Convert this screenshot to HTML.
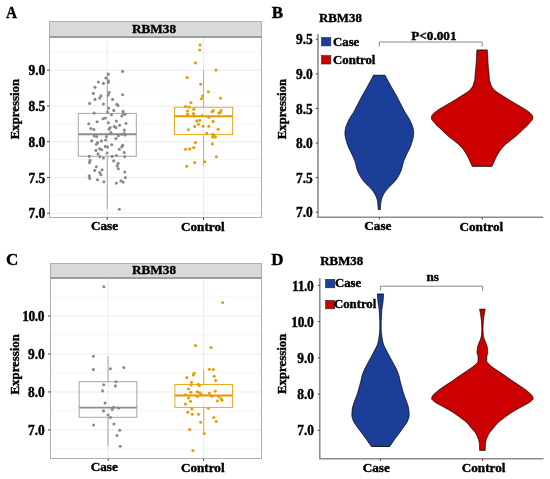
<!DOCTYPE html>
<html><head><meta charset="utf-8"><style>
html,body{margin:0;padding:0;background:#fff;}
svg{display:block;filter:blur(0.35px);}
</style></head><body>
<svg width="550" height="479" viewBox="0 0 550 479">
<rect width="550" height="479" fill="#fff"/>
<g style="font-family:'Liberation Serif',serif;font-weight:bold;stroke:#000;stroke-width:0.4px;" fill="#000">
<text font-size="17" transform="translate(6.1,18.0) scale(0.9,1.04)">A</text>
<text font-size="17" transform="translate(271.75,17.9) scale(1.0,1.03)">B</text>
<text font-size="17" transform="translate(6.05,264.7) scale(1.0,1.03)">C</text>
<text font-size="17" transform="translate(271.35,264.8) scale(1.0,1.03)">D</text>
</g>
<line x1="49.5" x2="261.5" y1="195.325" y2="195.325" stroke="#f3f3f3" stroke-width="0.8"/>
<line x1="49.5" x2="261.5" y1="159.575" y2="159.575" stroke="#f3f3f3" stroke-width="0.8"/>
<line x1="49.5" x2="261.5" y1="123.82499999999999" y2="123.82499999999999" stroke="#f3f3f3" stroke-width="0.8"/>
<line x1="49.5" x2="261.5" y1="88.07499999999999" y2="88.07499999999999" stroke="#f3f3f3" stroke-width="0.8"/>
<line x1="49.5" x2="261.5" y1="52.32499999999999" y2="52.32499999999999" stroke="#f3f3f3" stroke-width="0.8"/>
<line x1="49.5" x2="261.5" y1="213.2" y2="213.2" stroke="#ebebeb" stroke-width="1.0"/>
<line x1="49.5" x2="261.5" y1="177.45" y2="177.45" stroke="#ebebeb" stroke-width="1.0"/>
<line x1="49.5" x2="261.5" y1="141.7" y2="141.7" stroke="#ebebeb" stroke-width="1.0"/>
<line x1="49.5" x2="261.5" y1="105.94999999999999" y2="105.94999999999999" stroke="#ebebeb" stroke-width="1.0"/>
<line x1="49.5" x2="261.5" y1="70.19999999999999" y2="70.19999999999999" stroke="#ebebeb" stroke-width="1.0"/>
<line x1="107.2" x2="107.2" y1="37.0" y2="217.5" stroke="#ebebeb" stroke-width="1.0"/>
<line x1="203.6" x2="203.6" y1="37.0" y2="217.5" stroke="#ebebeb" stroke-width="1.0"/>
<line x1="107.30000000000001" x2="107.30000000000001" y1="72.2" y2="113.4" stroke="#a6a6a6" stroke-width="1.0"/>
<line x1="107.30000000000001" x2="107.30000000000001" y1="156.2" y2="209.3" stroke="#a6a6a6" stroke-width="1.0"/>
<rect x="78.3" y="113.4" width="58.000000000000014" height="42.79999999999998" fill="none" stroke="#a6a6a6" stroke-width="1.0"/>
<line x1="78.3" x2="136.3" y1="134.2" y2="134.2" stroke="#8c8c8c" stroke-width="1.9"/>
<line x1="203.55" x2="203.55" y1="70.1" y2="107.3" stroke="#e8aa22" stroke-width="1.0"/>
<line x1="203.55" x2="203.55" y1="134.6" y2="166" stroke="#e8aa22" stroke-width="1.0"/>
<rect x="174.5" y="107.3" width="58.099999999999994" height="27.299999999999997" fill="none" stroke="#e8aa22" stroke-width="1.0"/>
<line x1="174.5" x2="232.6" y1="116.3" y2="116.3" stroke="#e09a00" stroke-width="1.9"/>
<g fill="#8a8a8a"><circle cx="122.6" cy="71.4" r="1.55"/><circle cx="108.4" cy="74.2" r="1.55"/><circle cx="105.9" cy="78.0" r="1.55"/><circle cx="108.4" cy="80.9" r="1.55"/><circle cx="108.4" cy="82.5" r="1.55"/><circle cx="98.4" cy="82.0" r="1.55"/><circle cx="103.4" cy="83.4" r="1.55"/><circle cx="95.0" cy="87.2" r="1.55"/><circle cx="93.4" cy="93.4" r="1.55"/><circle cx="109.2" cy="92.6" r="1.55"/><circle cx="108.1" cy="95.1" r="1.55"/><circle cx="122.6" cy="94.7" r="1.55"/><circle cx="100.9" cy="95.9" r="1.55"/><circle cx="99.7" cy="98.1" r="1.55"/><circle cx="95.0" cy="99.4" r="1.55"/><circle cx="112.6" cy="99.4" r="1.55"/><circle cx="89.7" cy="103.4" r="1.55"/><circle cx="103.4" cy="104.1" r="1.55"/><circle cx="116.8" cy="104.3" r="1.55"/><circle cx="117.9" cy="105.4" r="1.55"/><circle cx="108.7" cy="108.1" r="1.55"/><circle cx="113.8" cy="110.4" r="1.55"/><circle cx="123.1" cy="111.4" r="1.55"/><circle cx="94.2" cy="113.1" r="1.55"/><circle cx="107.6" cy="112.1" r="1.55"/><circle cx="111.4" cy="114.8" r="1.55"/><circle cx="123.4" cy="113.8" r="1.55"/><circle cx="121.8" cy="116.0" r="1.55"/><circle cx="125.1" cy="114.3" r="1.55"/><circle cx="105.4" cy="118.0" r="1.55"/><circle cx="103.1" cy="118.8" r="1.55"/><circle cx="97.1" cy="121.8" r="1.55"/><circle cx="88.7" cy="123.8" r="1.55"/><circle cx="108.4" cy="122.8" r="1.55"/><circle cx="116.3" cy="121.1" r="1.55"/><circle cx="125.9" cy="123.5" r="1.55"/><circle cx="119.6" cy="125.3" r="1.55"/><circle cx="114.3" cy="126.5" r="1.55"/><circle cx="115.9" cy="127.6" r="1.55"/><circle cx="110.1" cy="127.6" r="1.55"/><circle cx="109.2" cy="129.3" r="1.55"/><circle cx="90.9" cy="128.5" r="1.55"/><circle cx="93.9" cy="129.5" r="1.55"/><circle cx="124.3" cy="130.1" r="1.55"/><circle cx="110.9" cy="132.6" r="1.55"/><circle cx="124.3" cy="133.5" r="1.55"/><circle cx="121.8" cy="134.3" r="1.55"/><circle cx="94.2" cy="136.0" r="1.55"/><circle cx="96.7" cy="136.5" r="1.55"/><circle cx="106.4" cy="136.5" r="1.55"/><circle cx="115.9" cy="138.5" r="1.55"/><circle cx="118.4" cy="135.8" r="1.55"/><circle cx="125.1" cy="135.0" r="1.55"/><circle cx="91.7" cy="140.9" r="1.55"/><circle cx="97.5" cy="142.5" r="1.55"/><circle cx="96.4" cy="144.2" r="1.55"/><circle cx="101.4" cy="140.9" r="1.55"/><circle cx="105.6" cy="140.0" r="1.55"/><circle cx="111.7" cy="144.7" r="1.55"/><circle cx="105.4" cy="146.4" r="1.55"/><circle cx="107.6" cy="147.0" r="1.55"/><circle cx="99.7" cy="148.7" r="1.55"/><circle cx="101.7" cy="149.7" r="1.55"/><circle cx="95.9" cy="150.4" r="1.55"/><circle cx="119.3" cy="149.2" r="1.55"/><circle cx="121.8" cy="146.7" r="1.55"/><circle cx="122.6" cy="145.4" r="1.55"/><circle cx="107.1" cy="153.0" r="1.55"/><circle cx="98.0" cy="153.9" r="1.55"/><circle cx="124.3" cy="152.5" r="1.55"/><circle cx="99.7" cy="156.7" r="1.55"/><circle cx="89.2" cy="156.4" r="1.55"/><circle cx="103.4" cy="158.0" r="1.55"/><circle cx="112.1" cy="156.4" r="1.55"/><circle cx="116.4" cy="155.5" r="1.55"/><circle cx="124.8" cy="156.7" r="1.55"/><circle cx="90.0" cy="160.4" r="1.55"/><circle cx="89.5" cy="162.6" r="1.55"/><circle cx="113.7" cy="160.9" r="1.55"/><circle cx="118.1" cy="163.4" r="1.55"/><circle cx="117.2" cy="165.9" r="1.55"/><circle cx="118.4" cy="168.7" r="1.55"/><circle cx="96.4" cy="166.7" r="1.55"/><circle cx="94.7" cy="170.4" r="1.55"/><circle cx="102.1" cy="169.7" r="1.55"/><circle cx="99.7" cy="172.6" r="1.55"/><circle cx="100.9" cy="174.7" r="1.55"/><circle cx="124.8" cy="172.1" r="1.55"/><circle cx="89.2" cy="175.9" r="1.55"/><circle cx="89.7" cy="178.4" r="1.55"/><circle cx="97.5" cy="179.8" r="1.55"/><circle cx="103.9" cy="181.8" r="1.55"/><circle cx="125.4" cy="177.6" r="1.55"/><circle cx="116.4" cy="183.1" r="1.55"/><circle cx="120.9" cy="180.9" r="1.55"/><circle cx="123.1" cy="182.1" r="1.55"/><circle cx="119.3" cy="209.3" r="1.55"/></g>
<g fill="#E69F00"><circle cx="200.1" cy="45.0" r="1.55"/><circle cx="199.7" cy="50.0" r="1.55"/><circle cx="195.4" cy="62.9" r="1.55"/><circle cx="215.9" cy="70.1" r="1.55"/><circle cx="187.2" cy="77.6" r="1.55"/><circle cx="200.6" cy="84.3" r="1.55"/><circle cx="208.4" cy="91.8" r="1.55"/><circle cx="202.6" cy="96.0" r="1.55"/><circle cx="201.4" cy="98.8" r="1.55"/><circle cx="220.4" cy="98.1" r="1.55"/><circle cx="190.9" cy="102.6" r="1.55"/><circle cx="185.4" cy="106.5" r="1.55"/><circle cx="189.2" cy="107.1" r="1.55"/><circle cx="193.7" cy="109.3" r="1.55"/><circle cx="187.5" cy="111.0" r="1.55"/><circle cx="213.4" cy="110.5" r="1.55"/><circle cx="212.1" cy="111.8" r="1.55"/><circle cx="220.9" cy="110.5" r="1.55"/><circle cx="220.1" cy="112.7" r="1.55"/><circle cx="193.4" cy="113.5" r="1.55"/><circle cx="187.5" cy="114.3" r="1.55"/><circle cx="202.1" cy="115.5" r="1.55"/><circle cx="208.8" cy="117.2" r="1.55"/><circle cx="218.8" cy="113.0" r="1.55"/><circle cx="194.2" cy="115.9" r="1.55"/><circle cx="196.7" cy="120.9" r="1.55"/><circle cx="199.7" cy="120.4" r="1.55"/><circle cx="213.1" cy="121.4" r="1.55"/><circle cx="198.4" cy="124.2" r="1.55"/><circle cx="194.7" cy="126.4" r="1.55"/><circle cx="203.1" cy="126.2" r="1.55"/><circle cx="208.8" cy="126.2" r="1.55"/><circle cx="188.4" cy="129.7" r="1.55"/><circle cx="218.1" cy="129.2" r="1.55"/><circle cx="206.8" cy="133.4" r="1.55"/><circle cx="212.6" cy="134.2" r="1.55"/><circle cx="213.8" cy="135.1" r="1.55"/><circle cx="212.6" cy="137.1" r="1.55"/><circle cx="215.4" cy="137.1" r="1.55"/><circle cx="195.4" cy="142.6" r="1.55"/><circle cx="212.3" cy="143.9" r="1.55"/><circle cx="185.5" cy="149.3" r="1.55"/><circle cx="189.7" cy="148.9" r="1.55"/><circle cx="193.7" cy="147.6" r="1.55"/><circle cx="216.4" cy="156.8" r="1.55"/><circle cx="194.7" cy="162.6" r="1.55"/><circle cx="204.7" cy="161.8" r="1.55"/><circle cx="186.7" cy="166.3" r="1.55"/></g>
<rect x="49.5" y="37.0" width="212.0" height="180.5" fill="none" stroke="#b0b0b0" stroke-width="1.0"/>
<rect x="49.5" y="21.5" width="212.0" height="15.5" fill="#d9d9d9" stroke="#b0b0b0" stroke-width="1.0"/>
<line x1="49.5" x2="261.5" y1="37.0" y2="37.0" stroke="#9c9c9c" stroke-width="1.8"/>
<g style="font-family:'Liberation Serif',serif;font-weight:bold;stroke:#000;stroke-width:0.4px;" fill="#000">
<text x="132.05" y="33.0" font-size="13.2">RBM38</text>
<line x1="47.0" x2="49.5" y1="213.2" y2="213.2" stroke="#444" stroke-width="1"/>
<text font-size="13.4" text-anchor="end" transform="translate(45.30,218.30) scale(1,1.08)">7.0</text>
<line x1="47.0" x2="49.5" y1="177.45" y2="177.45" stroke="#444" stroke-width="1"/>
<text font-size="13.4" text-anchor="end" transform="translate(45.30,182.55) scale(1,1.08)">7.5</text>
<line x1="47.0" x2="49.5" y1="141.7" y2="141.7" stroke="#444" stroke-width="1"/>
<text font-size="13.4" text-anchor="end" transform="translate(45.30,146.80) scale(1,1.08)">8.0</text>
<line x1="47.0" x2="49.5" y1="105.94999999999999" y2="105.94999999999999" stroke="#444" stroke-width="1"/>
<text font-size="13.4" text-anchor="end" transform="translate(45.30,111.05) scale(1,1.08)">8.5</text>
<line x1="47.0" x2="49.5" y1="70.19999999999999" y2="70.19999999999999" stroke="#444" stroke-width="1"/>
<text font-size="13.4" text-anchor="end" transform="translate(45.30,75.30) scale(1,1.08)">9.0</text>
<line x1="107.2" x2="107.2" y1="217.5" y2="220.0" stroke="#444" stroke-width="1"/>
<line x1="203.6" x2="203.6" y1="217.5" y2="220.0" stroke="#444" stroke-width="1"/>
<text x="90.95" y="230.15" font-size="13.2">Case</text>
<text x="180.95" y="230.65" font-size="13.2">Control</text>
<text x="0" y="0" font-size="12.85" transform="translate(18.65,139.35) rotate(-90)">Expression</text>
</g>
<line x1="50.5" x2="261.5" y1="448.895" y2="448.895" stroke="#f3f3f3" stroke-width="0.8"/>
<line x1="50.5" x2="261.5" y1="410.925" y2="410.925" stroke="#f3f3f3" stroke-width="0.8"/>
<line x1="50.5" x2="261.5" y1="372.955" y2="372.955" stroke="#f3f3f3" stroke-width="0.8"/>
<line x1="50.5" x2="261.5" y1="334.985" y2="334.985" stroke="#f3f3f3" stroke-width="0.8"/>
<line x1="50.5" x2="261.5" y1="297.015" y2="297.015" stroke="#f3f3f3" stroke-width="0.8"/>
<line x1="50.5" x2="261.5" y1="429.90999999999997" y2="429.90999999999997" stroke="#ebebeb" stroke-width="1.0"/>
<line x1="50.5" x2="261.5" y1="391.94" y2="391.94" stroke="#ebebeb" stroke-width="1.0"/>
<line x1="50.5" x2="261.5" y1="353.97" y2="353.97" stroke="#ebebeb" stroke-width="1.0"/>
<line x1="50.5" x2="261.5" y1="316.0" y2="316.0" stroke="#ebebeb" stroke-width="1.0"/>
<line x1="108.2" x2="108.2" y1="278.0" y2="458.5" stroke="#ebebeb" stroke-width="1.0"/>
<line x1="203.6" x2="203.6" y1="278.0" y2="458.5" stroke="#ebebeb" stroke-width="1.0"/>
<line x1="108.0" x2="108.0" y1="356.3" y2="381.7" stroke="#a6a6a6" stroke-width="1.0"/>
<line x1="108.0" x2="108.0" y1="417.3" y2="446.3" stroke="#a6a6a6" stroke-width="1.0"/>
<rect x="79.2" y="381.7" width="57.60000000000001" height="35.60000000000002" fill="none" stroke="#a6a6a6" stroke-width="1.0"/>
<line x1="79.2" x2="136.8" y1="407.6" y2="407.6" stroke="#8c8c8c" stroke-width="1.9"/>
<line x1="203.75" x2="203.75" y1="369.6" y2="384.5" stroke="#e8aa22" stroke-width="1.0"/>
<line x1="203.75" x2="203.75" y1="407.4" y2="433.5" stroke="#e8aa22" stroke-width="1.0"/>
<rect x="174.9" y="384.5" width="57.69999999999999" height="22.899999999999977" fill="none" stroke="#e8aa22" stroke-width="1.0"/>
<line x1="174.9" x2="232.6" y1="395.5" y2="395.5" stroke="#e09a00" stroke-width="1.9"/>
<g fill="#8a8a8a"><circle cx="103.9" cy="286.7" r="1.55"/><circle cx="93.4" cy="356.3" r="1.55"/><circle cx="93.4" cy="369.5" r="1.55"/><circle cx="110.4" cy="368.7" r="1.55"/><circle cx="123.8" cy="367.5" r="1.55"/><circle cx="115.9" cy="381.7" r="1.55"/><circle cx="103.7" cy="384.7" r="1.55"/><circle cx="115.4" cy="385.9" r="1.55"/><circle cx="102.6" cy="390.9" r="1.55"/><circle cx="105.1" cy="403.1" r="1.55"/><circle cx="113.6" cy="407.3" r="1.55"/><circle cx="112.2" cy="409.5" r="1.55"/><circle cx="118.7" cy="408.0" r="1.55"/><circle cx="103.5" cy="410.9" r="1.55"/><circle cx="108.1" cy="415.0" r="1.55"/><circle cx="110.4" cy="417.5" r="1.55"/><circle cx="93.6" cy="425.0" r="1.55"/><circle cx="113.9" cy="424.0" r="1.55"/><circle cx="119.7" cy="430.3" r="1.55"/><circle cx="117.0" cy="435.6" r="1.55"/><circle cx="120.2" cy="446.3" r="1.55"/></g>
<g fill="#E69F00"><circle cx="222.6" cy="302.5" r="1.55"/><circle cx="195.4" cy="345.6" r="1.55"/><circle cx="210.9" cy="347.6" r="1.55"/><circle cx="209.4" cy="369.2" r="1.55"/><circle cx="213.3" cy="369.6" r="1.55"/><circle cx="194.1" cy="373.3" r="1.55"/><circle cx="193.4" cy="375.0" r="1.55"/><circle cx="186.8" cy="377.6" r="1.55"/><circle cx="214.2" cy="376.2" r="1.55"/><circle cx="215.6" cy="380.5" r="1.55"/><circle cx="191.5" cy="382.3" r="1.55"/><circle cx="191.2" cy="384.9" r="1.55"/><circle cx="198.2" cy="384.2" r="1.55"/><circle cx="199.2" cy="385.6" r="1.55"/><circle cx="188.6" cy="389.0" r="1.55"/><circle cx="190.9" cy="392.2" r="1.55"/><circle cx="197.3" cy="391.9" r="1.55"/><circle cx="199.9" cy="392.9" r="1.55"/><circle cx="215.2" cy="391.2" r="1.55"/><circle cx="209.4" cy="393.3" r="1.55"/><circle cx="185.4" cy="394.7" r="1.55"/><circle cx="201.4" cy="394.4" r="1.55"/><circle cx="197.3" cy="396.5" r="1.55"/><circle cx="211.8" cy="396.3" r="1.55"/><circle cx="218.8" cy="396.5" r="1.55"/><circle cx="188.6" cy="398.0" r="1.55"/><circle cx="190.5" cy="401.2" r="1.55"/><circle cx="217.4" cy="400.9" r="1.55"/><circle cx="222.0" cy="400.2" r="1.55"/><circle cx="221.0" cy="398.7" r="1.55"/><circle cx="185.4" cy="404.1" r="1.55"/><circle cx="191.9" cy="408.9" r="1.55"/><circle cx="208.3" cy="408.2" r="1.55"/><circle cx="187.8" cy="412.2" r="1.55"/><circle cx="192.3" cy="414.2" r="1.55"/><circle cx="198.5" cy="414.3" r="1.55"/><circle cx="213.7" cy="417.5" r="1.55"/><circle cx="216.2" cy="421.5" r="1.55"/><circle cx="200.6" cy="422.2" r="1.55"/><circle cx="189.7" cy="429.6" r="1.55"/><circle cx="204.3" cy="433.5" r="1.55"/><circle cx="192.9" cy="450.6" r="1.55"/></g>
<rect x="50.5" y="278.0" width="211.0" height="180.5" fill="none" stroke="#b0b0b0" stroke-width="1.0"/>
<rect x="50.5" y="263.5" width="211.0" height="14.5" fill="#d9d9d9" stroke="#b0b0b0" stroke-width="1.0"/>
<line x1="50.5" x2="261.5" y1="278.0" y2="278.0" stroke="#9c9c9c" stroke-width="1.8"/>
<g style="font-family:'Liberation Serif',serif;font-weight:bold;stroke:#000;stroke-width:0.4px;" fill="#000">
<text x="132.05" y="273.75" font-size="13.2">RBM38</text>
<line x1="48.0" x2="50.5" y1="429.90999999999997" y2="429.90999999999997" stroke="#444" stroke-width="1"/>
<text font-size="13.4" text-anchor="end" transform="translate(44.80,435.01) scale(1,1.08)">7.0</text>
<line x1="48.0" x2="50.5" y1="391.94" y2="391.94" stroke="#444" stroke-width="1"/>
<text font-size="13.4" text-anchor="end" transform="translate(44.80,397.04) scale(1,1.08)">8.0</text>
<line x1="48.0" x2="50.5" y1="353.97" y2="353.97" stroke="#444" stroke-width="1"/>
<text font-size="13.4" text-anchor="end" transform="translate(44.80,359.07) scale(1,1.08)">9.0</text>
<line x1="48.0" x2="50.5" y1="316.0" y2="316.0" stroke="#444" stroke-width="1"/>
<text font-size="13.4" text-anchor="end" letter-spacing="-0.4" transform="translate(44.00,321.10) scale(1,1.08)">10.0</text>
<line x1="108.2" x2="108.2" y1="458.5" y2="461.0" stroke="#444" stroke-width="1"/>
<line x1="203.6" x2="203.6" y1="458.5" y2="461.0" stroke="#444" stroke-width="1"/>
<text x="90.7" y="471.35" font-size="13.2">Case</text>
<text x="180.9" y="471.85" font-size="13.2">Control</text>
<text x="0" y="0" font-size="12.85" transform="translate(18.55,394.5) rotate(-90)">Expression</text>
</g>
<path d="M385.10,75.30 L385.36,75.80 L385.62,76.30 L385.88,76.80 L386.14,77.30 L386.40,77.81 L386.66,78.31 L386.93,78.81 L387.19,79.31 L387.46,79.81 L387.73,80.31 L388.00,80.81 L388.27,81.31 L388.54,81.81 L388.81,82.32 L389.09,82.82 L389.36,83.32 L389.64,83.82 L389.91,84.32 L390.19,84.82 L390.47,85.32 L390.75,85.82 L391.02,86.32 L391.30,86.83 L391.58,87.33 L391.86,87.83 L392.14,88.33 L392.42,88.83 L392.71,89.33 L392.99,89.83 L393.28,90.33 L393.57,90.83 L393.85,91.34 L394.14,91.84 L394.43,92.34 L394.72,92.84 L395.01,93.34 L395.30,93.84 L395.59,94.34 L395.87,94.84 L396.16,95.34 L396.44,95.85 L396.72,96.35 L396.99,96.85 L397.26,97.35 L397.53,97.85 L397.79,98.35 L398.05,98.85 L398.31,99.35 L398.57,99.85 L398.82,100.36 L399.08,100.86 L399.33,101.36 L399.58,101.86 L399.84,102.36 L400.09,102.86 L400.34,103.36 L400.60,103.86 L400.86,104.36 L401.12,104.87 L401.38,105.37 L401.65,105.87 L401.92,106.37 L402.19,106.87 L402.46,107.37 L402.73,107.87 L403.00,108.37 L403.25,108.88 L403.51,109.38 L403.76,109.88 L404.02,110.38 L404.28,110.88 L404.54,111.38 L404.82,111.88 L405.11,112.38 L405.42,112.88 L405.74,113.39 L406.07,113.89 L406.41,114.39 L406.75,114.89 L407.09,115.39 L407.41,115.89 L407.73,116.39 L408.03,116.89 L408.33,117.39 L408.62,117.90 L408.92,118.40 L409.20,118.90 L409.48,119.40 L409.74,119.90 L410.00,120.40 L410.25,120.90 L410.49,121.40 L410.73,121.90 L410.96,122.41 L411.18,122.91 L411.39,123.41 L411.60,123.91 L411.79,124.41 L411.98,124.91 L412.16,125.41 L412.35,125.91 L412.53,126.41 L412.70,126.92 L412.86,127.42 L413.00,127.92 L413.11,128.42 L413.20,128.92 L413.28,129.42 L413.35,129.92 L413.41,130.42 L413.47,130.92 L413.52,131.43 L413.56,131.93 L413.59,132.43 L413.60,132.93 L413.59,133.43 L413.57,133.93 L413.54,134.43 L413.49,134.93 L413.44,135.43 L413.37,135.94 L413.31,136.44 L413.24,136.94 L413.16,137.44 L413.07,137.94 L412.96,138.44 L412.83,138.94 L412.68,139.44 L412.53,139.94 L412.38,140.45 L412.23,140.95 L412.09,141.45 L411.94,141.95 L411.80,142.45 L411.66,142.95 L411.51,143.45 L411.35,143.95 L411.19,144.45 L411.02,144.96 L410.84,145.46 L410.65,145.96 L410.45,146.46 L410.23,146.96 L410.01,147.46 L409.78,147.96 L409.55,148.46 L409.31,148.96 L409.07,149.47 L408.83,149.97 L408.57,150.47 L408.32,150.97 L408.05,151.47 L407.79,151.97 L407.54,152.47 L407.28,152.97 L407.04,153.47 L406.80,153.98 L406.56,154.48 L406.33,154.98 L406.10,155.48 L405.87,155.98 L405.65,156.48 L405.42,156.98 L405.21,157.48 L404.99,157.98 L404.77,158.49 L404.55,158.99 L404.34,159.49 L404.13,159.99 L403.93,160.49 L403.74,160.99 L403.57,161.49 L403.41,161.99 L403.26,162.49 L403.13,163.00 L403.00,163.50 L402.87,164.00 L402.75,164.50 L402.63,165.00 L402.50,165.50 L402.37,166.00 L402.24,166.50 L402.12,167.00 L402.00,167.51 L401.87,168.01 L401.74,168.51 L401.61,169.01 L401.46,169.51 L401.30,170.01 L401.12,170.51 L400.92,171.01 L400.71,171.51 L400.48,172.02 L400.24,172.52 L400.00,173.02 L399.74,173.52 L399.49,174.02 L399.24,174.52 L398.97,175.02 L398.70,175.52 L398.42,176.02 L398.14,176.53 L397.84,177.03 L397.53,177.53 L397.21,178.03 L396.88,178.53 L396.54,179.03 L396.18,179.53 L395.82,180.03 L395.44,180.54 L395.04,181.04 L394.63,181.54 L394.21,182.04 L393.78,182.54 L393.30,183.04 L392.80,183.54 L392.27,184.04 L391.73,184.54 L391.19,185.05 L390.66,185.55 L390.15,186.05 L389.66,186.55 L389.18,187.05 L388.69,187.55 L388.22,188.05 L387.75,188.55 L387.29,189.05 L386.86,189.56 L386.44,190.06 L386.06,190.56 L385.69,191.06 L385.33,191.56 L384.98,192.06 L384.65,192.56 L384.33,193.06 L384.03,193.56 L383.74,194.07 L383.47,194.57 L383.21,195.07 L382.96,195.57 L382.71,196.07 L382.47,196.57 L382.25,197.07 L382.04,197.57 L381.86,198.07 L381.69,198.58 L381.55,199.08 L381.43,199.58 L381.31,200.08 L381.20,200.58 L381.10,201.08 L381.01,201.58 L380.92,202.08 L380.85,202.58 L380.79,203.09 L380.74,203.59 L380.69,204.09 L380.64,204.59 L380.60,205.09 L380.56,205.59 L380.53,206.09 L380.49,206.59 L380.46,207.09 L380.42,207.60 L380.39,208.10 L380.36,208.60 L380.33,209.10 L380.30,209.60 L378.30,209.60 L378.27,209.10 L378.24,208.60 L378.21,208.10 L378.18,207.60 L378.14,207.09 L378.11,206.59 L378.07,206.09 L378.04,205.59 L378.00,205.09 L377.96,204.59 L377.91,204.09 L377.86,203.59 L377.81,203.09 L377.75,202.58 L377.68,202.08 L377.59,201.58 L377.50,201.08 L377.40,200.58 L377.29,200.08 L377.17,199.58 L377.05,199.08 L376.91,198.58 L376.74,198.07 L376.56,197.57 L376.35,197.07 L376.13,196.57 L375.89,196.07 L375.64,195.57 L375.39,195.07 L375.13,194.57 L374.86,194.07 L374.57,193.56 L374.27,193.06 L373.95,192.56 L373.62,192.06 L373.27,191.56 L372.91,191.06 L372.54,190.56 L372.16,190.06 L371.74,189.56 L371.31,189.05 L370.85,188.55 L370.38,188.05 L369.91,187.55 L369.42,187.05 L368.94,186.55 L368.45,186.05 L367.94,185.55 L367.41,185.05 L366.87,184.54 L366.33,184.04 L365.80,183.54 L365.30,183.04 L364.82,182.54 L364.39,182.04 L363.97,181.54 L363.56,181.04 L363.16,180.54 L362.78,180.03 L362.42,179.53 L362.06,179.03 L361.72,178.53 L361.39,178.03 L361.07,177.53 L360.76,177.03 L360.46,176.53 L360.18,176.02 L359.90,175.52 L359.63,175.02 L359.36,174.52 L359.11,174.02 L358.86,173.52 L358.60,173.02 L358.36,172.52 L358.12,172.02 L357.89,171.51 L357.68,171.01 L357.48,170.51 L357.30,170.01 L357.14,169.51 L356.99,169.01 L356.86,168.51 L356.73,168.01 L356.60,167.51 L356.48,167.00 L356.36,166.50 L356.23,166.00 L356.10,165.50 L355.97,165.00 L355.85,164.50 L355.73,164.00 L355.60,163.50 L355.47,163.00 L355.34,162.49 L355.19,161.99 L355.03,161.49 L354.86,160.99 L354.67,160.49 L354.47,159.99 L354.26,159.49 L354.05,158.99 L353.83,158.49 L353.61,157.98 L353.39,157.48 L353.18,156.98 L352.95,156.48 L352.73,155.98 L352.50,155.48 L352.27,154.98 L352.04,154.48 L351.80,153.98 L351.56,153.47 L351.32,152.97 L351.06,152.47 L350.81,151.97 L350.55,151.47 L350.28,150.97 L350.03,150.47 L349.77,149.97 L349.53,149.47 L349.29,148.96 L349.05,148.46 L348.82,147.96 L348.59,147.46 L348.37,146.96 L348.15,146.46 L347.95,145.96 L347.76,145.46 L347.58,144.96 L347.41,144.45 L347.25,143.95 L347.09,143.45 L346.94,142.95 L346.80,142.45 L346.66,141.95 L346.51,141.45 L346.37,140.95 L346.22,140.45 L346.07,139.94 L345.92,139.44 L345.77,138.94 L345.64,138.44 L345.53,137.94 L345.44,137.44 L345.36,136.94 L345.29,136.44 L345.23,135.94 L345.16,135.43 L345.11,134.93 L345.06,134.43 L345.03,133.93 L345.01,133.43 L345.00,132.93 L345.01,132.43 L345.04,131.93 L345.08,131.43 L345.13,130.92 L345.19,130.42 L345.25,129.92 L345.32,129.42 L345.40,128.92 L345.49,128.42 L345.60,127.92 L345.74,127.42 L345.90,126.92 L346.07,126.41 L346.25,125.91 L346.44,125.41 L346.62,124.91 L346.81,124.41 L347.00,123.91 L347.21,123.41 L347.42,122.91 L347.64,122.41 L347.87,121.90 L348.11,121.40 L348.35,120.90 L348.60,120.40 L348.86,119.90 L349.12,119.40 L349.40,118.90 L349.68,118.40 L349.98,117.90 L350.27,117.39 L350.57,116.89 L350.87,116.39 L351.19,115.89 L351.51,115.39 L351.85,114.89 L352.19,114.39 L352.53,113.89 L352.86,113.39 L353.18,112.88 L353.49,112.38 L353.78,111.88 L354.06,111.38 L354.32,110.88 L354.58,110.38 L354.84,109.88 L355.09,109.38 L355.35,108.88 L355.60,108.37 L355.87,107.87 L356.14,107.37 L356.41,106.87 L356.68,106.37 L356.95,105.87 L357.22,105.37 L357.48,104.87 L357.74,104.36 L358.00,103.86 L358.26,103.36 L358.51,102.86 L358.76,102.36 L359.02,101.86 L359.27,101.36 L359.52,100.86 L359.78,100.36 L360.03,99.85 L360.29,99.35 L360.55,98.85 L360.81,98.35 L361.07,97.85 L361.34,97.35 L361.61,96.85 L361.88,96.35 L362.16,95.85 L362.44,95.34 L362.73,94.84 L363.01,94.34 L363.30,93.84 L363.59,93.34 L363.88,92.84 L364.17,92.34 L364.46,91.84 L364.75,91.34 L365.03,90.83 L365.32,90.33 L365.61,89.83 L365.89,89.33 L366.18,88.83 L366.46,88.33 L366.74,87.83 L367.02,87.33 L367.30,86.83 L367.58,86.32 L367.85,85.82 L368.13,85.32 L368.41,84.82 L368.69,84.32 L368.96,83.82 L369.24,83.32 L369.51,82.82 L369.79,82.32 L370.06,81.81 L370.33,81.31 L370.60,80.81 L370.87,80.31 L371.14,79.81 L371.41,79.31 L371.67,78.81 L371.94,78.31 L372.20,77.81 L372.46,77.30 L372.72,76.80 L372.98,76.30 L373.24,75.80 L373.50,75.30 Z" fill="#1b3f98" stroke="#0a0a14" stroke-width="0.9"/>
<path d="M487.30,50.00 L487.32,50.50 L487.34,51.00 L487.36,51.50 L487.38,52.01 L487.40,52.51 L487.43,53.01 L487.45,53.51 L487.47,54.01 L487.50,54.51 L487.52,55.01 L487.55,55.51 L487.57,56.02 L487.60,56.52 L487.62,57.02 L487.65,57.52 L487.68,58.02 L487.71,58.52 L487.74,59.02 L487.76,59.52 L487.79,60.03 L487.83,60.53 L487.86,61.03 L487.89,61.53 L487.92,62.03 L487.96,62.53 L487.99,63.03 L488.02,63.53 L488.06,64.04 L488.10,64.54 L488.13,65.04 L488.17,65.54 L488.21,66.04 L488.25,66.54 L488.30,67.04 L488.34,67.55 L488.39,68.05 L488.44,68.55 L488.49,69.05 L488.55,69.55 L488.60,70.05 L488.65,70.55 L488.70,71.05 L488.76,71.56 L488.81,72.06 L488.85,72.56 L488.90,73.06 L488.95,73.56 L488.99,74.06 L489.03,74.56 L489.06,75.06 L489.09,75.57 L489.11,76.07 L489.14,76.57 L489.17,77.07 L489.19,77.57 L489.22,78.07 L489.26,78.57 L489.30,79.08 L489.35,79.58 L489.41,80.08 L489.53,80.58 L489.70,81.08 L489.91,81.58 L490.12,82.08 L490.30,82.58 L490.43,83.09 L490.55,83.59 L490.67,84.09 L490.80,84.59 L490.96,85.09 L491.16,85.59 L491.40,86.09 L491.67,86.59 L491.98,87.10 L492.32,87.60 L492.70,88.10 L493.09,88.60 L493.52,89.10 L493.96,89.60 L494.42,90.10 L494.90,90.60 L495.45,91.11 L496.08,91.61 L496.76,92.11 L497.49,92.61 L498.26,93.11 L499.06,93.61 L499.87,94.11 L500.68,94.62 L501.49,95.12 L502.27,95.62 L503.05,96.12 L503.83,96.62 L504.62,97.12 L505.42,97.62 L506.23,98.12 L507.04,98.63 L507.87,99.13 L508.69,99.63 L509.52,100.13 L510.35,100.63 L511.19,101.13 L512.03,101.63 L512.89,102.13 L513.76,102.64 L514.63,103.14 L515.50,103.64 L516.37,104.14 L517.23,104.64 L518.09,105.14 L518.94,105.64 L519.77,106.14 L520.61,106.65 L521.46,107.15 L522.32,107.65 L523.17,108.15 L524.01,108.65 L524.84,109.15 L525.64,109.65 L526.40,110.16 L527.13,110.66 L527.82,111.16 L528.46,111.66 L529.09,112.16 L529.70,112.66 L530.27,113.16 L530.78,113.66 L531.22,114.17 L531.59,114.67 L531.97,115.17 L532.31,115.67 L532.59,116.17 L532.76,116.67 L532.80,117.17 L532.76,117.67 L532.70,118.18 L532.60,118.68 L532.48,119.18 L532.34,119.68 L532.05,120.18 L531.64,120.68 L531.13,121.18 L530.60,121.68 L530.09,122.19 L529.64,122.69 L529.22,123.19 L528.81,123.69 L528.40,124.19 L527.98,124.69 L527.55,125.19 L527.09,125.70 L526.60,126.20 L526.05,126.70 L525.47,127.20 L524.86,127.70 L524.27,128.20 L523.70,128.70 L523.18,129.20 L522.69,129.71 L522.19,130.21 L521.69,130.71 L521.18,131.21 L520.68,131.71 L520.17,132.21 L519.67,132.71 L519.15,133.21 L518.63,133.72 L518.10,134.22 L517.56,134.72 L517.00,135.22 L516.43,135.72 L515.83,136.22 L515.21,136.72 L514.58,137.23 L513.93,137.73 L513.28,138.23 L512.62,138.73 L511.97,139.23 L511.32,139.73 L510.68,140.23 L510.05,140.73 L509.44,141.24 L508.82,141.74 L508.21,142.24 L507.59,142.74 L506.97,143.24 L506.37,143.74 L505.78,144.24 L505.21,144.74 L504.66,145.25 L504.15,145.75 L503.66,146.25 L503.19,146.75 L502.74,147.25 L502.31,147.75 L501.89,148.25 L501.48,148.75 L501.09,149.26 L500.71,149.76 L500.34,150.26 L499.98,150.76 L499.63,151.26 L499.29,151.76 L498.96,152.26 L498.64,152.77 L498.33,153.27 L498.02,153.77 L497.73,154.27 L497.44,154.77 L497.16,155.27 L496.89,155.77 L496.62,156.27 L496.36,156.78 L496.11,157.28 L495.87,157.78 L495.63,158.28 L495.40,158.78 L495.17,159.28 L494.95,159.78 L494.73,160.28 L494.50,160.79 L494.27,161.29 L494.04,161.79 L493.81,162.29 L493.58,162.79 L493.35,163.29 L493.13,163.79 L492.90,164.29 L492.67,164.80 L492.45,165.30 L492.22,165.80 L492.00,166.30 L472.20,166.30 L471.98,165.80 L471.75,165.30 L471.53,164.80 L471.30,164.29 L471.07,163.79 L470.85,163.29 L470.62,162.79 L470.39,162.29 L470.16,161.79 L469.93,161.29 L469.70,160.79 L469.47,160.28 L469.25,159.78 L469.03,159.28 L468.80,158.78 L468.57,158.28 L468.33,157.78 L468.09,157.28 L467.84,156.78 L467.58,156.27 L467.31,155.77 L467.04,155.27 L466.76,154.77 L466.47,154.27 L466.18,153.77 L465.87,153.27 L465.56,152.77 L465.24,152.26 L464.91,151.76 L464.57,151.26 L464.22,150.76 L463.86,150.26 L463.49,149.76 L463.11,149.26 L462.72,148.75 L462.31,148.25 L461.89,147.75 L461.46,147.25 L461.01,146.75 L460.54,146.25 L460.05,145.75 L459.54,145.25 L458.99,144.74 L458.42,144.24 L457.83,143.74 L457.23,143.24 L456.61,142.74 L455.99,142.24 L455.38,141.74 L454.76,141.24 L454.15,140.73 L453.52,140.23 L452.88,139.73 L452.23,139.23 L451.58,138.73 L450.92,138.23 L450.27,137.73 L449.62,137.23 L448.99,136.72 L448.37,136.22 L447.77,135.72 L447.20,135.22 L446.64,134.72 L446.10,134.22 L445.57,133.72 L445.05,133.21 L444.53,132.71 L444.03,132.21 L443.52,131.71 L443.02,131.21 L442.51,130.71 L442.01,130.21 L441.51,129.71 L441.02,129.20 L440.50,128.70 L439.93,128.20 L439.34,127.70 L438.73,127.20 L438.15,126.70 L437.60,126.20 L437.11,125.70 L436.65,125.19 L436.22,124.69 L435.80,124.19 L435.39,123.69 L434.98,123.19 L434.56,122.69 L434.11,122.19 L433.60,121.68 L433.07,121.18 L432.56,120.68 L432.15,120.18 L431.86,119.68 L431.72,119.18 L431.60,118.68 L431.50,118.18 L431.44,117.67 L431.40,117.17 L431.44,116.67 L431.61,116.17 L431.89,115.67 L432.23,115.17 L432.61,114.67 L432.98,114.17 L433.42,113.66 L433.93,113.16 L434.50,112.66 L435.11,112.16 L435.74,111.66 L436.38,111.16 L437.07,110.66 L437.80,110.16 L438.56,109.65 L439.36,109.15 L440.19,108.65 L441.03,108.15 L441.88,107.65 L442.74,107.15 L443.59,106.65 L444.43,106.14 L445.26,105.64 L446.11,105.14 L446.97,104.64 L447.83,104.14 L448.70,103.64 L449.57,103.14 L450.44,102.64 L451.31,102.13 L452.17,101.63 L453.01,101.13 L453.85,100.63 L454.68,100.13 L455.51,99.63 L456.33,99.13 L457.16,98.63 L457.97,98.12 L458.78,97.62 L459.58,97.12 L460.37,96.62 L461.15,96.12 L461.93,95.62 L462.71,95.12 L463.52,94.62 L464.33,94.11 L465.14,93.61 L465.94,93.11 L466.71,92.61 L467.44,92.11 L468.12,91.61 L468.75,91.11 L469.30,90.60 L469.78,90.10 L470.24,89.60 L470.68,89.10 L471.11,88.60 L471.50,88.10 L471.88,87.60 L472.22,87.10 L472.53,86.59 L472.80,86.09 L473.04,85.59 L473.24,85.09 L473.40,84.59 L473.53,84.09 L473.65,83.59 L473.77,83.09 L473.90,82.58 L474.08,82.08 L474.29,81.58 L474.50,81.08 L474.67,80.58 L474.79,80.08 L474.85,79.58 L474.90,79.08 L474.94,78.57 L474.98,78.07 L475.01,77.57 L475.03,77.07 L475.06,76.57 L475.09,76.07 L475.11,75.57 L475.14,75.06 L475.17,74.56 L475.21,74.06 L475.25,73.56 L475.30,73.06 L475.35,72.56 L475.39,72.06 L475.44,71.56 L475.50,71.05 L475.55,70.55 L475.60,70.05 L475.65,69.55 L475.71,69.05 L475.76,68.55 L475.81,68.05 L475.86,67.55 L475.90,67.04 L475.95,66.54 L475.99,66.04 L476.03,65.54 L476.07,65.04 L476.10,64.54 L476.14,64.04 L476.18,63.53 L476.21,63.03 L476.24,62.53 L476.28,62.03 L476.31,61.53 L476.34,61.03 L476.37,60.53 L476.41,60.03 L476.44,59.52 L476.46,59.02 L476.49,58.52 L476.52,58.02 L476.55,57.52 L476.58,57.02 L476.60,56.52 L476.63,56.02 L476.65,55.51 L476.68,55.01 L476.70,54.51 L476.73,54.01 L476.75,53.51 L476.77,53.01 L476.80,52.51 L476.82,52.01 L476.84,51.50 L476.86,51.00 L476.88,50.50 L476.90,50.00 Z" fill="#cc0000" stroke="#1a0505" stroke-width="0.9"/>
<line x1="318.0" x2="318.0" y1="34.1" y2="217.3" stroke="#8c8c8c" stroke-width="1.6"/>
<line x1="317.2" x2="543.3" y1="217.3" y2="217.3" stroke="#8c8c8c" stroke-width="1.6"/>
<path d="M379.3,46.7 V42.0 H482.2 V46.7" fill="none" stroke="#8a8a8a" stroke-width="1"/>
<rect x="321.6" y="37.5" width="9.2" height="8.4" fill="#1b3f98" stroke="#222" stroke-width="0.6"/>
<rect x="321.6" y="55.6" width="9.2" height="8.4" fill="#cc0000" stroke="#222" stroke-width="0.6"/>
<g style="font-family:'Liberation Serif',serif;font-weight:bold;stroke:#000;stroke-width:0.4px;" fill="#000">
<text x="318.95" y="22.25" font-size="12.9">RBM38</text>
<text x="333.0" y="45.65" font-size="12.8">Case</text>
<text x="333.0" y="64.25" font-size="12.8">Control</text>
<text x="411.3" y="39.65" font-size="13.2">P&lt;0.001</text>
<text x="364.3" y="230.35" font-size="13.2">Case</text>
<text x="459.5" y="230.85" font-size="13.2">Control</text>
<text x="0" y="0" font-size="12.85" transform="translate(285.85,139.3) rotate(-90)">Expression</text>
<line x1="315.8" x2="318.0" y1="212.2" y2="212.2" stroke="#444" stroke-width="1"/>
<text font-size="13.4" text-anchor="end" transform="translate(312.80,217.30) scale(1,1.08)">7.0</text>
<line x1="315.8" x2="318.0" y1="177.62" y2="177.62" stroke="#444" stroke-width="1"/>
<text font-size="13.4" text-anchor="end" transform="translate(312.80,182.72) scale(1,1.08)">7.5</text>
<line x1="315.8" x2="318.0" y1="143.04" y2="143.04" stroke="#444" stroke-width="1"/>
<text font-size="13.4" text-anchor="end" transform="translate(312.80,148.14) scale(1,1.08)">8.0</text>
<line x1="315.8" x2="318.0" y1="108.46" y2="108.46" stroke="#444" stroke-width="1"/>
<text font-size="13.4" text-anchor="end" transform="translate(312.80,113.56) scale(1,1.08)">8.5</text>
<line x1="315.8" x2="318.0" y1="73.88" y2="73.88" stroke="#444" stroke-width="1"/>
<text font-size="13.4" text-anchor="end" transform="translate(312.80,78.98) scale(1,1.08)">9.0</text>
<line x1="315.8" x2="318.0" y1="39.30000000000001" y2="39.30000000000001" stroke="#444" stroke-width="1"/>
<text font-size="13.4" text-anchor="end" transform="translate(312.80,44.40) scale(1,1.08)">9.5</text>
<line x1="379.3" x2="379.3" y1="217.3" y2="219.5" stroke="#444" stroke-width="1"/>
<line x1="482.2" x2="482.2" y1="217.3" y2="219.5" stroke="#444" stroke-width="1"/>
</g>
<path d="M383.60,294.00 L383.57,294.50 L383.54,295.00 L383.50,295.50 L383.47,296.00 L383.43,296.50 L383.39,297.00 L383.34,297.50 L383.30,298.00 L383.25,298.50 L383.21,299.00 L383.16,299.50 L383.11,300.00 L383.06,300.50 L383.01,301.00 L382.96,301.50 L382.90,302.00 L382.85,302.50 L382.79,303.00 L382.73,303.50 L382.68,304.00 L382.61,304.50 L382.54,305.00 L382.46,305.50 L382.38,306.00 L382.29,306.50 L382.21,307.00 L382.12,307.50 L382.04,308.00 L381.97,308.50 L381.90,309.00 L381.85,309.50 L381.80,310.00 L381.76,310.50 L381.73,311.00 L381.69,311.50 L381.66,312.00 L381.64,312.50 L381.61,313.00 L381.58,313.50 L381.56,314.00 L381.54,314.50 L381.51,315.00 L381.49,315.50 L381.47,316.00 L381.44,316.50 L381.41,317.00 L381.38,317.50 L381.35,318.00 L381.32,318.50 L381.29,319.00 L381.26,319.50 L381.23,320.00 L381.20,320.50 L381.18,321.00 L381.17,321.50 L381.15,322.00 L381.15,322.50 L381.15,323.00 L381.15,323.50 L381.15,324.00 L381.15,324.50 L381.15,325.00 L381.15,325.50 L381.15,326.00 L381.15,326.50 L381.15,327.00 L381.15,327.50 L381.15,328.00 L381.15,328.50 L381.15,329.00 L381.16,329.50 L381.18,330.00 L381.21,330.50 L381.25,331.00 L381.29,331.50 L381.34,332.00 L381.40,332.50 L381.45,333.00 L381.51,333.50 L381.57,334.00 L381.63,334.50 L381.69,335.00 L381.75,335.50 L381.81,336.00 L381.87,336.50 L381.94,337.00 L382.01,337.50 L382.09,338.00 L382.17,338.50 L382.25,339.00 L382.34,339.50 L382.43,340.00 L382.52,340.50 L382.62,341.00 L382.72,341.50 L382.83,342.00 L382.94,342.50 L383.07,343.00 L383.21,343.50 L383.36,344.00 L383.54,344.50 L383.73,345.00 L383.95,345.50 L384.17,346.00 L384.41,346.50 L384.66,347.00 L384.91,347.50 L385.17,348.00 L385.43,348.50 L385.69,349.00 L385.95,349.50 L386.20,350.00 L386.45,350.50 L386.70,351.00 L386.96,351.50 L387.22,352.00 L387.48,352.50 L387.74,353.00 L388.01,353.50 L388.27,354.00 L388.54,354.50 L388.81,355.00 L389.07,355.50 L389.34,356.00 L389.61,356.50 L389.87,357.00 L390.14,357.50 L390.41,358.00 L390.68,358.50 L390.95,359.00 L391.22,359.50 L391.50,360.00 L391.77,360.50 L392.04,361.00 L392.31,361.50 L392.58,362.00 L392.85,362.50 L393.12,363.00 L393.39,363.50 L393.67,364.00 L393.95,364.50 L394.22,365.00 L394.50,365.50 L394.78,366.00 L395.05,366.50 L395.31,367.00 L395.57,367.50 L395.82,368.00 L396.06,368.50 L396.29,369.00 L396.52,369.50 L396.74,370.00 L396.96,370.50 L397.18,371.00 L397.39,371.50 L397.59,372.00 L397.79,372.50 L397.99,373.00 L398.17,373.50 L398.35,374.00 L398.51,374.50 L398.67,375.00 L398.82,375.50 L398.95,376.00 L399.08,376.50 L399.20,377.00 L399.32,377.50 L399.43,378.00 L399.54,378.50 L399.65,379.00 L399.76,379.50 L399.87,380.00 L399.98,380.50 L400.10,381.00 L400.23,381.50 L400.35,382.00 L400.48,382.50 L400.62,383.00 L400.75,383.50 L400.89,384.00 L401.02,384.50 L401.16,385.00 L401.30,385.50 L401.44,386.00 L401.58,386.50 L401.72,387.00 L401.86,387.50 L401.99,388.00 L402.13,388.50 L402.27,389.00 L402.40,389.50 L402.54,390.00 L402.68,390.50 L402.82,391.00 L402.96,391.50 L403.10,392.00 L403.25,392.50 L403.40,393.00 L403.55,393.50 L403.71,394.00 L403.87,394.50 L404.04,395.00 L404.21,395.50 L404.40,396.00 L404.60,396.50 L404.80,397.00 L405.00,397.50 L405.21,398.00 L405.41,398.50 L405.62,399.00 L405.82,399.50 L406.02,400.00 L406.21,400.50 L406.39,401.00 L406.57,401.50 L406.73,402.00 L406.90,402.50 L407.06,403.00 L407.23,403.50 L407.40,404.00 L407.56,404.50 L407.72,405.00 L407.88,405.50 L408.03,406.00 L408.17,406.50 L408.30,407.00 L408.42,407.50 L408.52,408.00 L408.61,408.50 L408.68,409.00 L408.73,409.50 L408.78,410.00 L408.83,410.50 L408.88,411.00 L408.93,411.50 L408.97,412.00 L409.00,412.50 L409.04,413.00 L409.06,413.50 L409.08,414.00 L409.09,414.50 L409.10,415.00 L409.09,415.50 L409.05,416.00 L408.97,416.50 L408.88,417.00 L408.75,417.50 L408.62,418.00 L408.46,418.50 L408.29,419.00 L408.11,419.50 L407.93,420.00 L407.75,420.50 L407.56,421.00 L407.35,421.50 L407.11,422.00 L406.84,422.50 L406.54,423.00 L406.22,423.50 L405.88,424.00 L405.53,424.50 L405.17,425.00 L404.82,425.50 L404.46,426.00 L404.11,426.50 L403.76,427.00 L403.41,427.50 L403.06,428.00 L402.69,428.50 L402.32,429.00 L401.95,429.50 L401.57,430.00 L401.19,430.50 L400.81,431.00 L400.43,431.50 L400.05,432.00 L399.67,432.50 L399.30,433.00 L398.93,433.50 L398.55,434.00 L398.17,434.50 L397.80,435.00 L397.42,435.50 L397.04,436.00 L396.67,436.50 L396.29,437.00 L395.93,437.50 L395.56,438.00 L395.20,438.50 L394.84,439.00 L394.49,439.50 L394.15,440.00 L393.81,440.50 L393.47,441.00 L393.13,441.50 L392.79,442.00 L392.45,442.50 L392.11,443.00 L391.76,443.50 L391.41,444.00 L391.06,444.50 L390.70,445.00 L390.33,445.50 L389.97,446.00 L389.60,446.50 L371.40,446.50 L371.03,446.00 L370.67,445.50 L370.30,445.00 L369.94,444.50 L369.59,444.00 L369.24,443.50 L368.89,443.00 L368.55,442.50 L368.21,442.00 L367.87,441.50 L367.53,441.00 L367.19,440.50 L366.85,440.00 L366.51,439.50 L366.16,439.00 L365.80,438.50 L365.44,438.00 L365.07,437.50 L364.71,437.00 L364.33,436.50 L363.96,436.00 L363.58,435.50 L363.20,435.00 L362.83,434.50 L362.45,434.00 L362.07,433.50 L361.70,433.00 L361.33,432.50 L360.95,432.00 L360.57,431.50 L360.19,431.00 L359.81,430.50 L359.43,430.00 L359.05,429.50 L358.68,429.00 L358.31,428.50 L357.94,428.00 L357.59,427.50 L357.24,427.00 L356.89,426.50 L356.54,426.00 L356.18,425.50 L355.83,425.00 L355.47,424.50 L355.12,424.00 L354.78,423.50 L354.46,423.00 L354.16,422.50 L353.89,422.00 L353.65,421.50 L353.44,421.00 L353.25,420.50 L353.07,420.00 L352.89,419.50 L352.71,419.00 L352.54,418.50 L352.38,418.00 L352.25,417.50 L352.12,417.00 L352.03,416.50 L351.95,416.00 L351.91,415.50 L351.90,415.00 L351.91,414.50 L351.92,414.00 L351.94,413.50 L351.96,413.00 L352.00,412.50 L352.03,412.00 L352.07,411.50 L352.12,411.00 L352.17,410.50 L352.22,410.00 L352.27,409.50 L352.32,409.00 L352.39,408.50 L352.48,408.00 L352.58,407.50 L352.70,407.00 L352.83,406.50 L352.97,406.00 L353.12,405.50 L353.28,405.00 L353.44,404.50 L353.60,404.00 L353.77,403.50 L353.94,403.00 L354.10,402.50 L354.27,402.00 L354.43,401.50 L354.61,401.00 L354.79,400.50 L354.98,400.00 L355.18,399.50 L355.38,399.00 L355.59,398.50 L355.79,398.00 L356.00,397.50 L356.20,397.00 L356.40,396.50 L356.60,396.00 L356.79,395.50 L356.96,395.00 L357.13,394.50 L357.29,394.00 L357.45,393.50 L357.60,393.00 L357.75,392.50 L357.90,392.00 L358.04,391.50 L358.18,391.00 L358.32,390.50 L358.46,390.00 L358.60,389.50 L358.73,389.00 L358.87,388.50 L359.01,388.00 L359.14,387.50 L359.28,387.00 L359.42,386.50 L359.56,386.00 L359.70,385.50 L359.84,385.00 L359.98,384.50 L360.11,384.00 L360.25,383.50 L360.38,383.00 L360.52,382.50 L360.65,382.00 L360.77,381.50 L360.90,381.00 L361.02,380.50 L361.13,380.00 L361.24,379.50 L361.35,379.00 L361.46,378.50 L361.57,378.00 L361.68,377.50 L361.80,377.00 L361.92,376.50 L362.05,376.00 L362.18,375.50 L362.33,375.00 L362.49,374.50 L362.65,374.00 L362.83,373.50 L363.01,373.00 L363.21,372.50 L363.41,372.00 L363.61,371.50 L363.82,371.00 L364.04,370.50 L364.26,370.00 L364.48,369.50 L364.71,369.00 L364.94,368.50 L365.18,368.00 L365.43,367.50 L365.69,367.00 L365.95,366.50 L366.22,366.00 L366.50,365.50 L366.78,365.00 L367.05,364.50 L367.33,364.00 L367.61,363.50 L367.88,363.00 L368.15,362.50 L368.42,362.00 L368.69,361.50 L368.96,361.00 L369.23,360.50 L369.50,360.00 L369.78,359.50 L370.05,359.00 L370.32,358.50 L370.59,358.00 L370.86,357.50 L371.13,357.00 L371.39,356.50 L371.66,356.00 L371.93,355.50 L372.19,355.00 L372.46,354.50 L372.73,354.00 L372.99,353.50 L373.26,353.00 L373.52,352.50 L373.78,352.00 L374.04,351.50 L374.30,351.00 L374.55,350.50 L374.80,350.00 L375.05,349.50 L375.31,349.00 L375.57,348.50 L375.83,348.00 L376.09,347.50 L376.34,347.00 L376.59,346.50 L376.83,346.00 L377.05,345.50 L377.27,345.00 L377.46,344.50 L377.64,344.00 L377.79,343.50 L377.93,343.00 L378.06,342.50 L378.17,342.00 L378.28,341.50 L378.38,341.00 L378.48,340.50 L378.57,340.00 L378.66,339.50 L378.75,339.00 L378.83,338.50 L378.91,338.00 L378.99,337.50 L379.06,337.00 L379.13,336.50 L379.19,336.00 L379.25,335.50 L379.31,335.00 L379.37,334.50 L379.43,334.00 L379.49,333.50 L379.55,333.00 L379.60,332.50 L379.66,332.00 L379.71,331.50 L379.75,331.00 L379.79,330.50 L379.82,330.00 L379.84,329.50 L379.85,329.00 L379.85,328.50 L379.85,328.00 L379.85,327.50 L379.85,327.00 L379.85,326.50 L379.85,326.00 L379.85,325.50 L379.85,325.00 L379.85,324.50 L379.85,324.00 L379.85,323.50 L379.85,323.00 L379.85,322.50 L379.85,322.00 L379.83,321.50 L379.82,321.00 L379.80,320.50 L379.77,320.00 L379.74,319.50 L379.71,319.00 L379.68,318.50 L379.65,318.00 L379.62,317.50 L379.59,317.00 L379.56,316.50 L379.53,316.00 L379.51,315.50 L379.49,315.00 L379.46,314.50 L379.44,314.00 L379.42,313.50 L379.39,313.00 L379.36,312.50 L379.34,312.00 L379.31,311.50 L379.27,311.00 L379.24,310.50 L379.20,310.00 L379.15,309.50 L379.10,309.00 L379.03,308.50 L378.96,308.00 L378.88,307.50 L378.79,307.00 L378.71,306.50 L378.62,306.00 L378.54,305.50 L378.46,305.00 L378.39,304.50 L378.32,304.00 L378.27,303.50 L378.21,303.00 L378.15,302.50 L378.10,302.00 L378.04,301.50 L377.99,301.00 L377.94,300.50 L377.89,300.00 L377.84,299.50 L377.79,299.00 L377.75,298.50 L377.70,298.00 L377.66,297.50 L377.61,297.00 L377.57,296.50 L377.53,296.00 L377.50,295.50 L377.46,295.00 L377.43,294.50 L377.40,294.00 Z" fill="#1b3f98" stroke="#0a0a14" stroke-width="0.9"/>
<path d="M485.17,309.20 L485.06,309.70 L484.96,310.20 L484.85,310.70 L484.75,311.20 L484.65,311.70 L484.56,312.20 L484.46,312.70 L484.38,313.20 L484.29,313.70 L484.21,314.20 L484.13,314.70 L484.06,315.20 L483.99,315.70 L483.91,316.20 L483.84,316.71 L483.77,317.21 L483.70,317.71 L483.63,318.21 L483.57,318.71 L483.51,319.21 L483.46,319.71 L483.40,320.21 L483.36,320.71 L483.32,321.21 L483.28,321.71 L483.25,322.21 L483.22,322.71 L483.19,323.21 L483.16,323.71 L483.14,324.21 L483.11,324.71 L483.09,325.21 L483.06,325.71 L483.04,326.21 L483.02,326.71 L483.01,327.21 L483.00,327.71 L482.99,328.21 L482.98,328.71 L482.98,329.21 L482.98,329.71 L482.99,330.21 L483.00,330.72 L483.02,331.22 L483.04,331.72 L483.07,332.22 L483.09,332.72 L483.13,333.22 L483.16,333.72 L483.20,334.22 L483.24,334.72 L483.28,335.22 L483.35,335.72 L483.44,336.22 L483.55,336.72 L483.69,337.22 L483.83,337.72 L483.99,338.22 L484.15,338.72 L484.31,339.22 L484.47,339.72 L484.66,340.22 L484.86,340.72 L485.08,341.22 L485.30,341.72 L485.53,342.22 L485.75,342.72 L485.95,343.22 L486.14,343.72 L486.31,344.22 L486.48,344.73 L486.65,345.23 L486.82,345.73 L486.97,346.23 L487.11,346.73 L487.24,347.23 L487.33,347.73 L487.40,348.23 L487.46,348.73 L487.51,349.23 L487.55,349.73 L487.60,350.23 L487.63,350.73 L487.66,351.23 L487.68,351.73 L487.70,352.23 L487.70,352.73 L487.64,353.23 L487.54,353.73 L487.39,354.23 L487.22,354.73 L487.05,355.23 L486.90,355.73 L486.78,356.23 L486.71,356.73 L486.70,357.23 L486.70,357.73 L486.70,358.23 L486.70,358.74 L486.70,359.24 L486.70,359.74 L486.70,360.24 L486.70,360.74 L486.72,361.24 L486.87,361.74 L487.15,362.24 L487.54,362.74 L488.01,363.24 L488.53,363.74 L489.07,364.24 L489.62,364.74 L490.14,365.24 L490.68,365.74 L491.26,366.24 L491.90,366.74 L492.57,367.24 L493.27,367.74 L493.99,368.24 L494.72,368.74 L495.46,369.24 L496.20,369.74 L496.93,370.24 L497.65,370.74 L498.38,371.24 L499.12,371.74 L499.88,372.24 L500.64,372.75 L501.41,373.25 L502.17,373.75 L502.93,374.25 L503.69,374.75 L504.44,375.25 L505.17,375.75 L505.89,376.25 L506.59,376.75 L507.29,377.25 L507.98,377.75 L508.67,378.25 L509.36,378.75 L510.06,379.25 L510.76,379.75 L511.46,380.25 L512.18,380.75 L512.92,381.25 L513.67,381.75 L514.43,382.25 L515.20,382.75 L515.97,383.25 L516.75,383.75 L517.53,384.25 L518.29,384.75 L519.05,385.25 L519.80,385.75 L520.52,386.25 L521.25,386.75 L521.99,387.26 L522.72,387.76 L523.45,388.26 L524.17,388.76 L524.87,389.26 L525.55,389.76 L526.21,390.26 L526.84,390.76 L527.44,391.26 L528.01,391.76 L528.60,392.26 L529.19,392.76 L529.78,393.26 L530.35,393.76 L530.88,394.26 L531.37,394.76 L531.81,395.26 L532.17,395.76 L532.46,396.26 L532.66,396.76 L532.83,397.26 L532.97,397.76 L533.07,398.26 L533.10,398.76 L532.95,399.26 L532.60,399.76 L532.10,400.26 L531.50,400.76 L530.87,401.27 L530.24,401.77 L529.60,402.27 L528.86,402.77 L528.03,403.27 L527.15,403.77 L526.21,404.27 L525.25,404.77 L524.27,405.27 L523.29,405.77 L522.33,406.27 L521.41,406.77 L520.53,407.27 L519.65,407.77 L518.76,408.27 L517.87,408.77 L516.99,409.27 L516.11,409.77 L515.24,410.27 L514.38,410.77 L513.54,411.27 L512.73,411.77 L511.94,412.27 L511.18,412.77 L510.43,413.27 L509.70,413.77 L508.99,414.27 L508.29,414.77 L507.60,415.28 L506.91,415.78 L506.24,416.28 L505.57,416.78 L504.90,417.28 L504.23,417.78 L503.55,418.28 L502.87,418.78 L502.19,419.28 L501.52,419.78 L500.86,420.28 L500.22,420.78 L499.59,421.28 L499.00,421.78 L498.44,422.28 L497.92,422.78 L497.43,423.28 L496.97,423.78 L496.53,424.28 L496.11,424.78 L495.70,425.28 L495.30,425.78 L494.90,426.28 L494.51,426.78 L494.11,427.28 L493.70,427.78 L493.27,428.28 L492.83,428.78 L492.38,429.29 L491.93,429.79 L491.48,430.29 L491.04,430.79 L490.61,431.29 L490.20,431.79 L489.82,432.29 L489.46,432.79 L489.15,433.29 L488.85,433.79 L488.56,434.29 L488.29,434.79 L488.02,435.29 L487.77,435.79 L487.54,436.29 L487.31,436.79 L487.11,437.29 L486.91,437.79 L486.74,438.29 L486.57,438.79 L486.40,439.29 L486.24,439.79 L486.08,440.29 L485.93,440.79 L485.79,441.29 L485.67,441.79 L485.56,442.29 L485.48,442.79 L485.42,443.30 L485.39,443.80 L485.36,444.30 L485.34,444.80 L485.32,445.30 L485.29,445.80 L485.28,446.30 L485.26,446.80 L485.24,447.30 L485.23,447.80 L485.22,448.30 L485.21,448.80 L485.21,449.30 L485.20,449.80 L485.20,450.30 L479.60,450.30 L479.60,449.80 L479.59,449.30 L479.59,448.80 L479.58,448.30 L479.57,447.80 L479.56,447.30 L479.54,446.80 L479.52,446.30 L479.51,445.80 L479.48,445.30 L479.46,444.80 L479.44,444.30 L479.41,443.80 L479.38,443.30 L479.32,442.79 L479.24,442.29 L479.13,441.79 L479.01,441.29 L478.87,440.79 L478.72,440.29 L478.56,439.79 L478.40,439.29 L478.23,438.79 L478.06,438.29 L477.89,437.79 L477.69,437.29 L477.49,436.79 L477.26,436.29 L477.03,435.79 L476.78,435.29 L476.51,434.79 L476.24,434.29 L475.95,433.79 L475.65,433.29 L475.34,432.79 L474.98,432.29 L474.60,431.79 L474.19,431.29 L473.76,430.79 L473.32,430.29 L472.87,429.79 L472.42,429.29 L471.97,428.78 L471.53,428.28 L471.10,427.78 L470.69,427.28 L470.29,426.78 L469.90,426.28 L469.50,425.78 L469.10,425.28 L468.69,424.78 L468.27,424.28 L467.83,423.78 L467.37,423.28 L466.88,422.78 L466.36,422.28 L465.80,421.78 L465.21,421.28 L464.58,420.78 L463.94,420.28 L463.28,419.78 L462.61,419.28 L461.93,418.78 L461.25,418.28 L460.57,417.78 L459.90,417.28 L459.23,416.78 L458.56,416.28 L457.89,415.78 L457.20,415.28 L456.51,414.77 L455.81,414.27 L455.10,413.77 L454.37,413.27 L453.62,412.77 L452.86,412.27 L452.07,411.77 L451.26,411.27 L450.42,410.77 L449.56,410.27 L448.69,409.77 L447.81,409.27 L446.93,408.77 L446.04,408.27 L445.15,407.77 L444.27,407.27 L443.39,406.77 L442.47,406.27 L441.51,405.77 L440.53,405.27 L439.55,404.77 L438.59,404.27 L437.65,403.77 L436.77,403.27 L435.94,402.77 L435.20,402.27 L434.56,401.77 L433.93,401.27 L433.30,400.76 L432.70,400.26 L432.20,399.76 L431.85,399.26 L431.70,398.76 L431.73,398.26 L431.83,397.76 L431.97,397.26 L432.14,396.76 L432.34,396.26 L432.63,395.76 L432.99,395.26 L433.43,394.76 L433.92,394.26 L434.45,393.76 L435.02,393.26 L435.61,392.76 L436.20,392.26 L436.79,391.76 L437.36,391.26 L437.96,390.76 L438.59,390.26 L439.25,389.76 L439.93,389.26 L440.63,388.76 L441.35,388.26 L442.08,387.76 L442.81,387.26 L443.55,386.75 L444.28,386.25 L445.00,385.75 L445.75,385.25 L446.51,384.75 L447.27,384.25 L448.05,383.75 L448.83,383.25 L449.60,382.75 L450.37,382.25 L451.13,381.75 L451.88,381.25 L452.62,380.75 L453.34,380.25 L454.04,379.75 L454.74,379.25 L455.44,378.75 L456.13,378.25 L456.82,377.75 L457.51,377.25 L458.21,376.75 L458.91,376.25 L459.63,375.75 L460.36,375.25 L461.11,374.75 L461.87,374.25 L462.63,373.75 L463.39,373.25 L464.16,372.75 L464.92,372.24 L465.68,371.74 L466.42,371.24 L467.15,370.74 L467.87,370.24 L468.60,369.74 L469.34,369.24 L470.08,368.74 L470.81,368.24 L471.53,367.74 L472.23,367.24 L472.90,366.74 L473.54,366.24 L474.12,365.74 L474.66,365.24 L475.18,364.74 L475.73,364.24 L476.27,363.74 L476.79,363.24 L477.26,362.74 L477.65,362.24 L477.93,361.74 L478.08,361.24 L478.10,360.74 L478.10,360.24 L478.10,359.74 L478.10,359.24 L478.10,358.74 L478.10,358.23 L478.10,357.73 L478.10,357.23 L478.09,356.73 L478.02,356.23 L477.90,355.73 L477.75,355.23 L477.58,354.73 L477.41,354.23 L477.26,353.73 L477.16,353.23 L477.10,352.73 L477.10,352.23 L477.12,351.73 L477.14,351.23 L477.17,350.73 L477.20,350.23 L477.25,349.73 L477.29,349.23 L477.34,348.73 L477.40,348.23 L477.47,347.73 L477.56,347.23 L477.69,346.73 L477.83,346.23 L477.98,345.73 L478.15,345.23 L478.32,344.73 L478.49,344.22 L478.66,343.72 L478.85,343.22 L479.05,342.72 L479.27,342.22 L479.50,341.72 L479.72,341.22 L479.94,340.72 L480.14,340.22 L480.33,339.72 L480.49,339.22 L480.65,338.72 L480.81,338.22 L480.97,337.72 L481.11,337.22 L481.25,336.72 L481.36,336.22 L481.45,335.72 L481.52,335.22 L481.56,334.72 L481.60,334.22 L481.64,333.72 L481.67,333.22 L481.71,332.72 L481.73,332.22 L481.76,331.72 L481.78,331.22 L481.80,330.72 L481.81,330.21 L481.82,329.71 L481.82,329.21 L481.82,328.71 L481.81,328.21 L481.80,327.71 L481.79,327.21 L481.78,326.71 L481.76,326.21 L481.74,325.71 L481.71,325.21 L481.69,324.71 L481.66,324.21 L481.64,323.71 L481.61,323.21 L481.58,322.71 L481.55,322.21 L481.52,321.71 L481.48,321.21 L481.44,320.71 L481.40,320.21 L481.34,319.71 L481.29,319.21 L481.23,318.71 L481.17,318.21 L481.10,317.71 L481.03,317.21 L480.96,316.71 L480.89,316.20 L480.81,315.70 L480.74,315.20 L480.67,314.70 L480.59,314.20 L480.51,313.70 L480.42,313.20 L480.34,312.70 L480.24,312.20 L480.15,311.70 L480.05,311.20 L479.95,310.70 L479.84,310.20 L479.74,309.70 L479.63,309.20 Z" fill="#cc0000" stroke="#1a0505" stroke-width="0.9"/>
<line x1="319.8" x2="319.8" y1="278.2" y2="458.7" stroke="#8c8c8c" stroke-width="1.6"/>
<line x1="319.0" x2="543.5" y1="458.7" y2="458.7" stroke="#8c8c8c" stroke-width="1.6"/>
<path d="M380.4,290.9 V286.2 H482.6 V290.9" fill="none" stroke="#8a8a8a" stroke-width="1"/>
<rect x="325.6" y="279.4" width="9.2" height="8.4" fill="#1b3f98" stroke="#222" stroke-width="0.6"/>
<rect x="325.6" y="300.4" width="9.2" height="8.4" fill="#cc0000" stroke="#222" stroke-width="0.6"/>
<g style="font-family:'Liberation Serif',serif;font-weight:bold;stroke:#000;stroke-width:0.4px;" fill="#000">
<text x="320.25" y="264.9" font-size="12.9">RBM38</text>
<text x="334.95" y="287.3" font-size="12.8">Case</text>
<text x="333.9" y="308.35" font-size="12.8">Control</text>
<text x="426.5" y="281.4" font-size="13.2">ns</text>
<text x="362.75" y="471.55" font-size="13.2">Case</text>
<text x="461.7" y="472.05" font-size="13.2">Control</text>
<text x="0" y="0" font-size="12.85" transform="translate(285.85,394.1) rotate(-90)">Expression</text>
<line x1="317.6" x2="319.8" y1="430.31999999999994" y2="430.31999999999994" stroke="#444" stroke-width="1"/>
<text font-size="13.4" text-anchor="end" transform="translate(314.00,435.42) scale(1,1.08)">7.0</text>
<line x1="317.6" x2="319.8" y1="394.09" y2="394.09" stroke="#444" stroke-width="1"/>
<text font-size="13.4" text-anchor="end" transform="translate(314.00,399.19) scale(1,1.08)">8.0</text>
<line x1="317.6" x2="319.8" y1="357.85999999999996" y2="357.85999999999996" stroke="#444" stroke-width="1"/>
<text font-size="13.4" text-anchor="end" transform="translate(314.00,362.96) scale(1,1.08)">9.0</text>
<line x1="317.6" x2="319.8" y1="321.63" y2="321.63" stroke="#444" stroke-width="1"/>
<text font-size="13.4" text-anchor="end" letter-spacing="-0.4" transform="translate(313.20,326.73) scale(1,1.08)">10.0</text>
<line x1="317.6" x2="319.8" y1="285.4" y2="285.4" stroke="#444" stroke-width="1"/>
<text font-size="13.4" text-anchor="end" letter-spacing="-0.4" transform="translate(313.20,290.50) scale(1,1.08)">11.0</text>
<line x1="380.4" x2="380.4" y1="458.7" y2="460.9" stroke="#444" stroke-width="1"/>
<line x1="482.6" x2="482.6" y1="458.7" y2="460.9" stroke="#444" stroke-width="1"/>
</g>
</svg>
</body></html>
